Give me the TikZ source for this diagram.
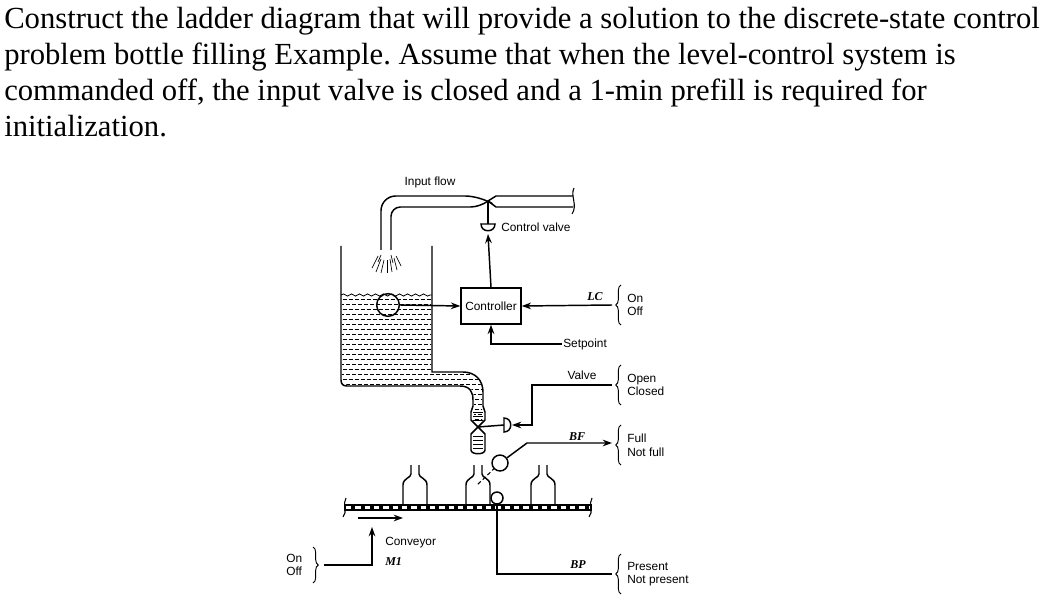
\documentclass[tikz,border=0pt]{standalone}
\usepackage{fontspec}
\setmainfont{Liberation Serif}
\newfontfamily\lblfont{Liberation Sans}
\usetikzlibrary{arrows.meta,decorations.pathreplacing,decorations.pathmorphing}
\frenchspacing
\begin{document}
\begin{tikzpicture}[x=0.75pt,y=-0.75pt,
  lbl/.style={font=\lblfont\fontsize{8.9}{10.2}\selectfont,inner sep=0pt,align=left},
  ital/.style={font=\fontsize{9}{10}\selectfont\bfseries\itshape,inner sep=0pt},
  ln/.style={line width=1.1pt},
  arr/.style={ln,-{Stealth[length=7pt,width=5pt]}},
  br/.style={decorate,decoration={brace,amplitude=4pt},line width=0.7pt},
  head/.style={font=\fontsize{23}{27}\selectfont,inner sep=0pt,anchor=base west}]
\useasboundingbox (0,0) rectangle (1043,599);
% heading
\node[head] (t1) at (4,29) {Construct the ladder diagram that will provide a solution to the discrete-state control};
\node[head] (t2) at (4,65) {problem bottle filling Example. Assume that when the level-control system is};
\node[head] (t3) at (4,101) {commanded off, the input valve is closed and a 1-min prefill is required for};
\node[head] (t4) at (4,137) {initialization.};
% input pipe
\node[lbl] (inflow) at (430,182) {Input flow};
\draw[ln,rounded corners=11pt] (381,250) -- (381,196) -- (480,196) -- (488,201);
\draw[ln] (488,201) -- (496,196) -- (573,196);
\draw[ln,rounded corners=7pt] (391,250) -- (391,207) -- (480,207) -- (488,201);
\draw[ln] (488,201) -- (496,207) -- (573,207);
\draw[line width=0.8pt] (574,188) .. controls (570,196) and (578,205) .. (572,214);
% control valve
\coordinate (pinch) at (488,201);
\draw[ln] (pinch) -- (488,224);
\draw[ln,fill=white] (481,224) -- (495,224) .. controls (495,233) and (481,233) .. (481,224) -- cycle;
\coordinate (act) at (488,234);
\node[lbl,anchor=west] (cv) at (501,227) {Control valve};
% spray
\foreach \a/\b/\c/\d in {372/268/378/256, 376/272/381/259, 381/273/384/260, 387/273/387/260, 392/272/390/259, 397/270/394/258, 401/266/396/256, 378/262/381/255,393/263/391/255}
  \draw[line width=0.5pt] (\a,\b) -- (\c,\d);
% liquid hatch
\begin{scope}
\clip (342,296) -- (342,381) -- (347,385) -- (460,385) .. controls (472,385) and (474,392) .. (474,400) -- (474,420) -- (482,420) -- (482,392) .. controls (482,378) and (472,373) .. (463,373) -- (431,373) -- (431,296) -- cycle;
\foreach \y [count=\i] in {299,304,...,420}{
  \pgfmathsetmacro{\ph}{mod(\i,2)*2.5}
  \draw[line width=0.5pt,dash pattern=on 3pt off 1.5pt,dash phase=\ph pt] (340,\y) -- (490,\y);}
\end{scope}
% surface
\draw[line width=0.6pt,decorate,decoration={snake,amplitude=0.8pt,segment length=6pt}] (341,295) -- (432,295);
% tank
\draw[ln] (341,246) -- (341,380) .. controls (341,384) and (343,386) .. (347,386) -- (460,386) .. controls (470,386) and (473,392) .. (473,400) -- (473,406);
\draw[ln] (432,246) -- (432,372) -- (463,372) .. controls (475,372) and (483,380) .. (483,392) -- (483,406);
% nozzle
\draw[ln] (473,406) -- (471,412) -- (471,420) -- (478,427) -- (485,420) -- (485,412) -- (483,406);
\draw[ln] (478,427) -- (471,434) -- (471,450) .. controls (471,455) and (485,455) .. (485,450) -- (485,434) -- cycle;
\foreach \y in {412,416,420,436,440,444,448}
  \draw[line width=0.5pt] (473,\y) -- (483,\y);
\coordinate (noz) at (478,427);
% float
\node[circle,draw,line width=1.1pt,minimum size=17pt,inner sep=0pt] (float) at (388,305) {};
% controller
\node[draw,ln,minimum width=45pt,minimum height=27pt,inner sep=0pt,font=\lblfont\fontsize{8.9}{10}\selectfont] (ctrl) at (491,306) {Controller};
\draw[arr] (float.east) -- (ctrl.west);
\draw[arr] (ctrl.north) -- (act);
\coordinate (lcend) at (612,305);
\draw[arr] (lcend) -- (ctrl.east);
\node[ital] (lc) at (595,297) {LC};
\coordinate (spend) at (562,344);
\draw[arr] (spend) -| (ctrl.south);
\node[lbl,anchor=west] (sp) at (563,344) {Setpoint};
% valve
\node[lbl] (valve) at (582,375) {Valve};
\draw[ln] (noz) -- (504,425);
\draw[ln,fill=white] (504,418) -- (504,432) .. controls (513,432) and (513,418) .. (504,418) -- cycle;
\coordinate (vact) at (512,425);
\coordinate (vend) at (612,385);
\draw[arr] (vend) -- (532,385) -- (532,425) -- (vact);
% BF
\coordinate (bfprobe) at (477,485);
\draw[line width=0.8pt,dash pattern=on 3pt off 2pt] (500,463) -- (bfprobe);
\node[circle,draw,line width=1.1pt,minimum size=12pt,inner sep=0pt,fill=white] (bfc) at (500,463) {};
\coordinate (bfend) at (612,443);
\draw[arr] (bfc) -- (527,443) -- (bfend);
\node[ital] (bf) at (577,437) {BF};
% bottles
\foreach \cx in {415,478,543}{
  \draw[ln] (\cx-12,504) -- (\cx-12,485) .. controls (\cx-12,478) and (\cx-4,478) .. (\cx-4,474) -- (\cx-4,465);
  \draw[ln] (\cx+12,504) -- (\cx+12,485) .. controls (\cx+12,478) and (\cx+4,478) .. (\cx+4,474) -- (\cx+4,465);
}
% conveyor
\fill (344,504) rectangle (592,511);
\draw[white,line width=2.5pt,dash pattern=on 4pt off 3pt] (346,507.5) -- (590,507.5);
\draw[line width=0.8pt] (346,498) .. controls (342,504) and (348,512) .. (343,517);
\draw[line width=0.8pt] (592,498) .. controls (588,504) and (594,512) .. (589,517);
\node[circle,draw,line width=1.1pt,minimum size=9pt,inner sep=0pt,fill=white] (bpc) at (497,498) {};
\coordinate (bpend) at (612,574);
\draw[ln] (497,505) -- (497,574) -- (bpend);
\node[ital] (bp) at (578,565) {BP};
\coordinate (cva) at (358,518); \coordinate (cvb) at (403,518);
\draw[arr] (cva) -- (cvb);
% M1
\coordinate (m1a) at (324,565); \coordinate (m1b) at (372,527);
\draw[arr] (m1a) -| (m1b);
\node[lbl,anchor=west] (conv) at (385,543) {Conveyor};
\node[ital,anchor=west] (m1) at (385,562) {M1};
% braces and states
\draw[br] (313,547) -- (313,583);
\node[lbl,anchor=west] (onoff1) at (286,565) {On\\Off};
\draw[br] (621,325) -- (621,285);
\node[lbl,anchor=west] (onoff2) at (627,305) {On\\Off};
\draw[br] (621,405) -- (621,365);
\node[lbl,anchor=west] (oc) at (627,385) {Open\\Closed};
\draw[br] (621,465) -- (621,425);
\node[lbl,anchor=west] (fn) at (627,445) {Full\\Not full};
\draw[br] (621,594) -- (621,554);
\node[lbl,anchor=west] (pn) at (627,574) {Present\\Not present};
\end{tikzpicture}
\end{document}
